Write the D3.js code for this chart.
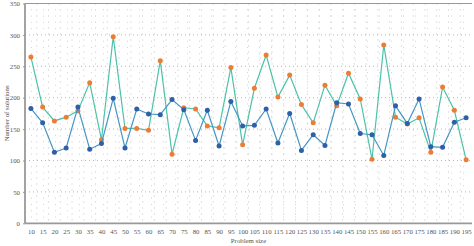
<!DOCTYPE html>
<html><head><meta charset="utf-8">
<script src="https://cdn.jsdelivr.net/npm/d3@7/dist/d3.min.js"></script>
<style>body{margin:0;background:#fff}svg{display:block}</style>
</head><body><svg id="c" width="474" height="246"></svg>
<script>
const sizes = [10,15,20,25,30,35,40,45,50,55,60,65,70,75,80,85,90,95,100,105,110,115,120,125,130,135,140,145,150,155,160,165,170,175,180,185,190,195];
const seriesA = [265,185,163,169,179,224,133,297,151,151,148,259,110,184,182,155,152,248,125,215,268,201,236,189,160,220,187,239,198,102,284,169,158,168,113,217,180,101];
const seriesB = [183,160,113,120,185,118,127,199,120,182,174,173,197,181,132,180,123,194,155,156,182,128,175,116,141,124,192,190,143,141,108,187,159,198,122,121,161,168];
const yTicks = [0,50,100,150,200,250,300,350];

const svg = d3.select("#c");
const L=25,R=472,T=3.5,B=223.3;
const x = d3.scalePoint().domain(sizes).range([L,R]).padding(0.5);
const y = d3.scaleLinear().domain([0,350]).range([B,T]);
const step = x.step();

// grid
const g = svg.append("g");
for (let i=1;i<sizes.length;i++){
  const gx = L + i*step;
  g.append("line").attr("x1",gx).attr("x2",gx).attr("y1",T).attr("y2",B)
   .attr("stroke","#b5b5b5").attr("stroke-width",0.8).attr("stroke-dasharray","1,5");
}
for (let v=10; v<350; v+=10){
  const major = v%50===0;
  g.append("line").attr("x1",L).attr("x2",R).attr("y1",y(v)).attr("y2",y(v))
   .attr("stroke",major?"#a5a5a5":"#c8c8c8").attr("stroke-width",0.8)
   .attr("stroke-dasharray",major?"1,3":"1,11").attr("stroke-dashoffset",major?0:-6);
}

// axes
svg.append("line").attr("x1",L).attr("x2",R).attr("y1",T).attr("y2",T).attr("stroke","#999").attr("stroke-width",1.2);
svg.append("line").attr("x1",L).attr("x2",L).attr("y1",T).attr("y2",B).attr("stroke","#999").attr("stroke-width",1.8);
svg.append("line").attr("x1",L).attr("x2",R).attr("y1",B).attr("y2",B).attr("stroke","#999").attr("stroke-width",1.8);

const yAxis = svg.append("g").attr("transform",`translate(${L},0)`)
  .call(d3.axisLeft(y).tickValues(yTicks).tickSize(2).tickPadding(3));
yAxis.select(".domain").remove();
yAxis.selectAll("line").attr("stroke","#999");
yAxis.selectAll("text").attr("font-family","Liberation Serif, serif").attr("font-size",6.8).attr("fill","#555");

const xAxis = svg.append("g").attr("transform",`translate(0,${B})`)
  .call(d3.axisBottom(x).tickSize(0).tickPadding(6));
xAxis.select(".domain").remove();
xAxis.selectAll("text").attr("font-family","Liberation Serif, serif").attr("font-size",6.8).attr("fill","#555");

svg.append("text").attr("x",(L+R)/2).attr("y",243).attr("text-anchor","middle")
  .attr("font-family","Liberation Serif, serif").attr("font-size",6.8).attr("fill","#555").text("Problem size");
svg.append("text").attr("transform",`translate(9,${(T+B)/2}) rotate(-90)`).attr("text-anchor","middle")
  .attr("font-family","Liberation Serif, serif").attr("font-size",6.8).attr("fill","#555").text("Number of solutions");

const line = d3.line().x((d,i)=>x(sizes[i])).y(d=>y(d));
function drawSeries(data, lineColor, dotColor){
  svg.append("path").datum(data).attr("d",line).attr("fill","none")
    .attr("stroke",lineColor).attr("stroke-width",1.2);
  svg.append("g").selectAll("circle").data(data).join("circle")
    .attr("cx",(d,i)=>x(sizes[i])).attr("cy",d=>y(d)).attr("r",2.5).attr("fill",dotColor);
}
drawSeries(seriesA, "#4cc2a8", "#ec7d36");
drawSeries(seriesB, "#4596c4", "#2f5fa6");
</script></body></html>
